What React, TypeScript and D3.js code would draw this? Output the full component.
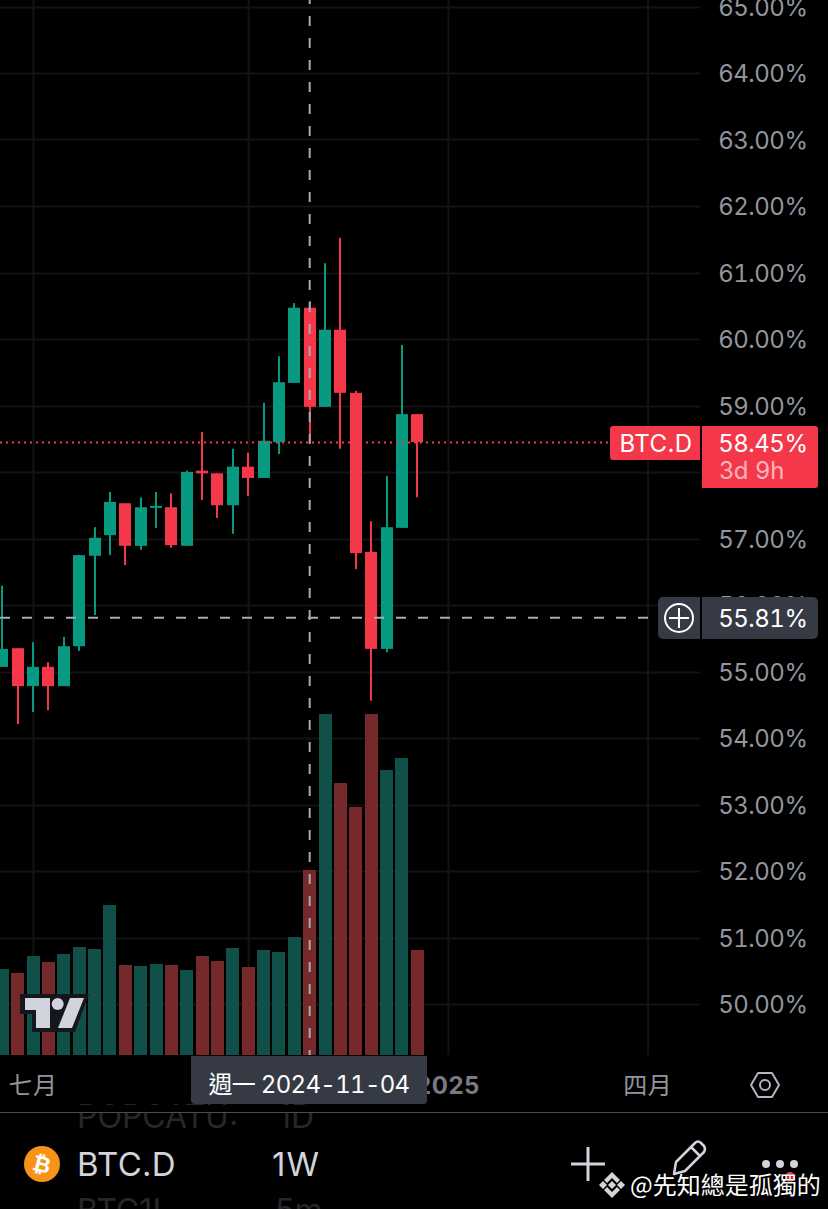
import React from "react";
import * as d3 from "d3";

const opens = [55.07,55.35,54.78,55.07,54.78,55.38,56.74,57.05,57.53,56.89,57.46,57.47,56.89,58.02,57.98,57.50,58.08,57.91,58.45,59.34,60.47,58.98,60.14,59.19,56.80,55.34,57.16,58.87];
const closes = [55.34,54.78,55.07,54.78,55.38,56.75,57.01,57.55,56.89,57.47,57.49,56.90,58.00,57.98,57.50,58.08,57.91,58.47,59.35,60.47,58.98,60.14,59.19,56.78,55.34,57.17,58.87,58.45];
const highs = [56.29,55.35,55.44,55.14,55.52,56.75,57.17,57.70,57.53,57.62,57.70,57.68,58.02,58.60,57.98,58.35,58.29,59.04,59.74,60.54,60.57,61.14,61.52,59.22,57.26,57.94,59.91,58.87];
const lows = [55.07,54.21,54.39,54.42,54.78,55.31,55.85,56.75,56.60,56.83,57.16,56.86,56.89,57.58,57.31,57.07,57.64,57.91,58.27,59.34,58.44,58.98,58.35,56.54,54.56,55.29,57.16,57.62];
const volumes = [86,82,99,93,101,108,106,150,90,89,91,90,85,99,94,107,88,105,103,118,185,341,272,248,341,285,297,105];
const priceTicks = [65,64,63,62,61,60,59,58,57,56,55,54,53,52,51,50];
const timeTicks = [
  { index: 2, label: "七月" },
  { index: 16, label: "" },
  { index: 29, label: "2025" },
  { index: 42, label: "四月" },
];
const lastPrice = 58.45;
const crossPrice = 55.81;
const crossIndex = 20;
const crossDate = "週一 2024-11-04";

const UI = "Inter, 'Noto Sans CJK TC', sans-serif";
const CJK = "'Noto Sans CJK TC', sans-serif";
const UP = "#089981";
const DOWN = "#f5374a";
const PANEL = "#363a45";
const NUM: React.CSSProperties = { fontVariantNumeric: "tabular-nums", letterSpacing: "-0.5px" };

export default function App() {
  const x = d3.scaleLinear().domain([0, 27]).range([2.35, 417.25]);
  const y = d3.scaleLinear().domain([65, 50]).range([6.5, 1004]);
  const v = d3.scaleLinear().domain([0, 341]).range([1055, 714]);
  const idx = d3.range(opens.length);
  return (
    <svg width={828} height={1209} viewBox="0 0 828 1209"
      style={{ position: "fixed", left: 0, top: 0, display: "block", background: "#000" }}>
      <rect width={828} height={1209} fill="#000" />
      {/* grid */}
      {priceTicks.map((p) => (
        <line key={p} x1={0} x2={700} y1={Math.round(y(p)) + 0.5} y2={Math.round(y(p)) + 0.5} stroke="#131313" strokeWidth={2} />
      ))}
      {timeTicks.map((t) => (
        <line key={t.index} x1={x(t.index) + 0.4} x2={x(t.index) + 0.4} y1={0} y2={1055} stroke="#131313" strokeWidth={2} />
      ))}
      {/* volume */}
      {idx.map((i) => (
        <rect key={i} x={Math.round(x(i) - 6.5)} y={v(volumes[i])} width={13} height={1055 - v(volumes[i])}
          fill={closes[i] >= opens[i] ? "#12534c" : "#7a2b2d"} fillOpacity={0.96} />
      ))}
      {/* candles */}
      {idx.map((i) => {
        const c = closes[i] >= opens[i] ? UP : DOWN;
        const top = y(Math.max(opens[i], closes[i]));
        const bot = y(Math.min(opens[i], closes[i]));
        const left = Math.round(x(i) - 6);
        return (
          <g key={i} fill={c}>
            <rect x={left + 5} y={y(highs[i])} width={2} height={y(lows[i]) - y(highs[i])} />
            <rect x={left} y={top} width={12} height={Math.max(2, bot - top)} />
          </g>
        );
      })}
      {/* TradingView mark */}
      <g>
        <path d="M20 994H89L75 1032H32V1014H20Z" fill="#15171d" />
        <path d="M25 998H50V1028H36V1010H25ZM70 998H84L72 1028H58Z" fill="#d1d4dc" />
        <circle cx={57.7} cy={1004} r={6} fill="#d1d4dc" />
      </g>
      {/* last price line */}
      <line x1={0} x2={610} y1={y(lastPrice) + 0.5} y2={y(lastPrice) + 0.5} stroke={DOWN} strokeWidth={2} strokeDasharray="2 4" />
      {/* crosshair */}
      <line x1={0} x2={652} y1={y(crossPrice)} y2={y(crossPrice)} stroke="#a8abb4" strokeWidth={2} strokeDasharray="10 12" />
      <line x1={x(crossIndex)} x2={x(crossIndex)} y1={0} y2={1055} stroke="#a8abb4" strokeWidth={2} strokeDasharray="10 12" strokeDashoffset={6} />
      {/* price axis */}
      {priceTicks.map((p) => (
        <text key={p} x={807.5} y={y(p) + 9} textAnchor="end" fontFamily={UI} fontSize={24} fill="#92959d" style={NUM}>{p.toFixed(2)}%</text>
      ))}
      {/* last price tags */}
      <path d="M700 426H613a3 3 0 0 0 -3 3V457a3 3 0 0 0 3 3H700Z" fill={DOWN} />
      <text x={656} y={451.5} textAnchor="middle" fontFamily={UI} fontSize={24} fill="#fff" style={{ letterSpacing: "0.4px" }}>BTC.D</text>
      <path d="M702 426H815a3 3 0 0 1 3 3V485a3 3 0 0 1 -3 3H702Z" fill={DOWN} />
      <text x={807.5} y={451.5} textAnchor="end" fontFamily={UI} fontSize={24} fill="#fff" style={NUM}>{lastPrice.toFixed(2)}%</text>
      <text x={719} y={479} fontFamily={UI} fontSize={24} fill="#fff" fillOpacity={0.65}>3d 9h</text>
      {/* crosshair tags */}
      <path d="M700 597H663a5 5 0 0 0 -5 5V634a5 5 0 0 0 5 5H700Z" fill={PANEL} />
      <circle cx={679} cy={618} r={14} fill="none" stroke="#fff" strokeWidth={2} />
      <path d="M669 618H689M679 608V628" stroke="#fff" strokeWidth={2} fill="none" />
      <path d="M702 597H813a5 5 0 0 1 5 5V634a5 5 0 0 1 -5 5H702Z" fill={PANEL} />
      <text x={807.5} y={627} textAnchor="end" fontFamily={UI} fontSize={24} fill="#fff" style={NUM}>{crossPrice.toFixed(2)}%</text>
      {/* time axis */}
      <rect x={0} y={1055} width={828} height={154} fill="#000" />
      {timeTicks.map((t) => (
        <text key={t.index} x={x(t.index)} y={1094} textAnchor="middle" fontFamily={UI}
          fontSize={24} fontWeight={t.label === "2025" ? 700 : 400}
          fill={t.label === "2025" ? "#787b84" : "#92959d"} style={{ letterSpacing: "0.5px" }}>{t.label}</text>
      ))}
      <path d="M191 1056H427V1100a4 4 0 0 1 -4 4H195a4 4 0 0 1 -4 -4Z" fill={PANEL} />
      <text x={309} y={1093} textAnchor="middle" fontFamily={UI} fontSize={24} fill="#fff"
        style={{ fontVariantNumeric: "tabular-nums", letterSpacing: "-0.7px" }}>{crossDate}</text>
      <path d="M751 1085L758 1073H772L779 1085L772 1097H758Z" fill="none" stroke="#b2b5be" strokeWidth={2} strokeLinejoin="round" />
      <circle cx={765} cy={1085} r={5} fill="none" stroke="#b2b5be" strokeWidth={2} />
      {/* ghost rows */}
      <g fill="#26272b" fontFamily={UI} fontSize={32}>
        <text x={77} y={1128}>POPCATU:</text>
        <text x={278} y={1128}>1D</text>
        <text x={77} y={1222}>BTC1!</text>
        <text x={275} y={1222}>5m</text>
      </g>
      <rect x={0} y={1105} width={828} height={7} fill="#000" />
      <rect x={0} y={1112} width={828} height={1} fill="#4a4b53" />
      {/* symbol row */}
      <circle cx={42} cy={1164} r={18} fill="#f7931a" />
      <text x={42} y={1172} textAnchor="middle" fontFamily="'DejaVu Sans', sans-serif" fontWeight={700} fontSize={22} fill="#fff" transform="rotate(14 42 1164)">₿</text>
      <text x={77} y={1176} fontFamily={UI} fontSize={33} fill="#d1d4dc" style={{ letterSpacing: "0.3px" }}>BTC.D</text>
      <text x={272} y={1176} fontFamily={UI} fontSize={33} fill="#d1d4dc" style={{ letterSpacing: "1px" }}>1W</text>
      <path d="M571 1164H605M588 1147V1181" stroke="#d1d4dc" strokeWidth={3} fill="none" />
      <path d="M674 1174L676 1162L695 1143Q698 1140 701 1143L704 1146Q706 1149 704 1152L685 1171ZM691 1147L700 1156" fill="none" stroke="#d1d4dc" strokeWidth={2.500} strokeLinejoin="round" />
      <circle cx={766} cy={1164} r={4} fill="#d1d4dc" />
      <circle cx={780} cy={1164} r={4} fill="#d1d4dc" />
      <circle cx={794} cy={1164} r={4} fill="#d1d4dc" />
      <circle cx={790} cy={1177} r={5} fill={DOWN} />
      {/* watermark */}
      <path d="M612 1172L620 1180L617 1183L612 1178L607 1183L604 1180Z M612 1198L620 1190L617 1187L612 1192L607 1187L604 1190Z M603 1181L607 1185L603 1189L599 1185Z M621 1181L625 1185L621 1189L617 1185Z M612 1181L616 1185L612 1189L608 1185Z" fill="#d6d6d6" />
      <text x={630} y={1194} fontFamily={CJK} fontSize={24} fill="#fff" stroke="#000" strokeWidth={0.5} paintOrder="stroke">@先知總是孤獨的</text>
    </svg>
  );
}
